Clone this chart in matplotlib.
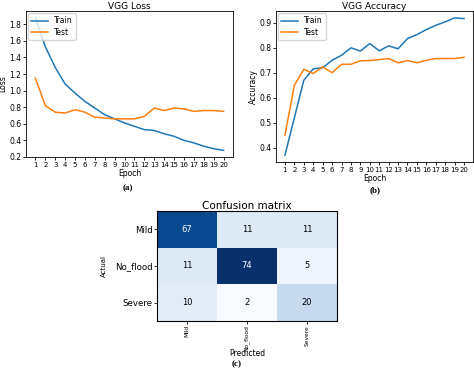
import matplotlib
matplotlib.use("Agg")
import matplotlib.pyplot as plt
import numpy as np

# Curvas de treino do VGG
epochs = list(range(1, 21))
loss_train = [1.88, 1.53, 1.28, 1.08, 0.97, 0.87, 0.79, 0.71, 0.66, 0.61,
              0.57, 0.53, 0.52, 0.48, 0.45, 0.40, 0.37, 0.33, 0.30, 0.28]
loss_test = [1.15, 0.82, 0.74, 0.73, 0.77, 0.74, 0.68, 0.67, 0.66, 0.66,
             0.66, 0.69, 0.79, 0.76, 0.79, 0.78, 0.75, 0.76, 0.76, 0.75]
acc_train = [0.37, 0.52, 0.67, 0.716, 0.72, 0.75, 0.77, 0.80, 0.787, 0.817,
             0.788, 0.808, 0.796, 0.837, 0.853, 0.873, 0.89, 0.904, 0.92, 0.917]
acc_test = [0.45, 0.65, 0.714, 0.697, 0.724, 0.70, 0.734, 0.734, 0.748, 0.749,
            0.753, 0.757, 0.74, 0.749, 0.74, 0.75, 0.757, 0.757, 0.757, 0.762]

# Matriz de confusão
classes = ["Mild", "No_flood", "Severe"]
cm = np.array([[67, 11, 11],
               [11, 74, 5],
               [10, 2, 20]])

W, H = 474, 368
fig = plt.figure(figsize=(W / 100, H / 100), dpi=100)


def box(l, t, r, b):
    return [l / W, 1 - b / H, (r - l) / W, (b - t) / H]


FS = 5.5


def curvas(ax, tr, te, titulo, ylabel):
    ax.plot(epochs, tr, color="#1f77b4", lw=1.1, label="Train")
    ax.plot(epochs, te, color="#ff7f0e", lw=1.1, label="Test")
    ax.set_title(titulo, fontsize=6.5, pad=1.5)
    ax.set_xlabel("Epoch", fontsize=FS, labelpad=1)
    ax.set_ylabel(ylabel, fontsize=FS, labelpad=1)
    ax.set_xticks(epochs)
    ax.tick_params(labelsize=FS, length=2, pad=1.5, width=0.6)
    ax.tick_params(axis="x", labelsize=5)
    for s in ax.spines.values():
        s.set_linewidth(0.6)
    ax.legend(loc="upper left", fontsize=FS, handlelength=2.2,
              borderaxespad=0.3, labelspacing=0.3, framealpha=0.8)


ax1 = fig.add_axes(box(26, 11, 233, 157))
curvas(ax1, loss_train, loss_test, "VGG Loss", "Loss")
ax1.set_yticks(np.arange(0.2, 1.81, 0.2))

ax2 = fig.add_axes(box(276, 11, 473, 162))
curvas(ax2, acc_train, acc_test, "VGG Accuracy", "Accuracy")

ax3 = fig.add_axes(box(157, 211, 337, 321))
ax3.imshow(cm, cmap="Blues", aspect="auto")
ax3.set_title("Confusion matrix", fontsize=7.5, pad=1.5)
ax3.set_xticks(range(3))
ax3.set_yticks(range(3))
ax3.set_xticklabels(classes, rotation=90, fontsize=4.2)
ax3.set_yticklabels(classes, fontsize=6.2)
ax3.tick_params(length=2, pad=1, width=0.6)
ax3.set_xlabel("Predicted", fontsize=5.5)
ax3.xaxis.set_label_coords(0.5, -(349.5 - 321) / 110)
ax3.set_ylabel("Actual", fontsize=5, labelpad=6)
thr = cm.max() / 2
for i in range(3):
    for j in range(3):
        ax3.text(j, i, str(cm[i, j]), ha="center", va="center", fontsize=6,
                 color="white" if cm[i, j] > thr else "black")

serif = dict(family="Liberation Serif", fontweight="bold", fontsize=6.5,
             ha="center", va="center")
fig.text(128 / W, 1 - 188 / H, "(a)", **serif)
fig.text(375 / W, 1 - 190 / H, "(b)", **serif)
fig.text(237 / W, 1 - 364.5 / H, "(c)", **serif)

fig.savefig("out.png", dpi=100)
